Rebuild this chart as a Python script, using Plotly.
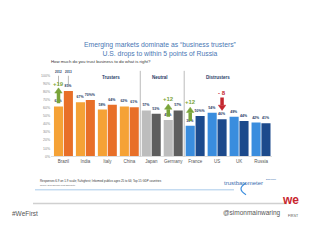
import plotly.graph_objects as go

countries = ["Brazil", "India", "Italy", "China", "Japan", "Germany", "France", "US", "UK", "Russia"]
trust_2012 = [62, 67, 58, 62, 57, 45, 38, 54, 49, 42]
trust_2013 = [81, 70, 64, 61, 53, 57, 50, 46, 44, 41]
groups = ["Trusters"] * 4 + ["Neutral"] * 2 + ["Distrusters"] * 4
light_colors = {"Trusters": "#F5A236", "Neutral": "#BDBDBD", "Distrusters": "#3A8DDE"}
dark_colors = {"Trusters": "#E86F28", "Neutral": "#5E5E5E", "Distrusters": "#1C4A8C"}
ytick_vals = list(range(0, 101, 10))
ytick_text = [f"{v}%" for v in ytick_vals]

W, H = 320, 240
def px(x): return x / W
def py(y): return 1 - y / H

fig = go.Figure()
fig.add_trace(go.Bar(
    x=countries, y=trust_2012, name="2012",
    marker=dict(color=[light_colors[g] for g in groups], line=dict(width=0)),
    texttemplate="<b>%{y}%</b>", textposition="outside",
    textfont=dict(size=3.5, color="#1F3A66", family="Liberation Sans"),
    cliponaxis=False,
))
fig.add_trace(go.Bar(
    x=countries, y=trust_2013, name="2013",
    marker=dict(color=[dark_colors[g] for g in groups], line=dict(width=0)),
    texttemplate="<b>%{y}%</b>", textposition="outside",
    textfont=dict(size=3.5, color="#1F3A66", family="Liberation Sans"),
    cliponaxis=False,
))

fig.update_layout(
    width=W, height=H, margin=dict(l=0, r=0, t=0, b=0),
    paper_bgcolor="white", plot_bgcolor="white",
    showlegend=False, barmode="group", bargap=0.1, bargroupgap=0.08,
    font=dict(family="Liberation Sans", color="#555555"),
    uniformtext=dict(minsize=3, mode="show"),
    xaxis=dict(domain=[px(51), px(272)], tickfont=dict(size=4.5, color="#555555"),
               showline=True, linecolor="#DDDDDD", linewidth=1, ticks="", showgrid=False),
    yaxis=dict(domain=[py(157), py(75)], range=[0, 100], tickvals=ytick_vals, ticktext=ytick_text,
               tickfont=dict(size=3.5, color="#888888"), showgrid=False, zeroline=False, ticks=""),
)

# separators
for xs in [3.5, 5.5]:
    fig.add_shape(type="line", xref="x", yref="paper", x0=xs, x1=xs, y0=py(157), y1=py(70),
                  line=dict(color="#BBBBBB", width=1))

# group labels
for txt, x in [("Trusters", 100), ("Neutral", 160), ("Distrusters", 232)]:
    fig.add_annotation(text=f"<b>{txt}</b>", x=px(x), y=py(72), xref="paper", yref="paper",
                       showarrow=False, font=dict(size=4.5, color="#1F3A66"))

# year labels with leader lines over Brazil
for xo, yr, ybot in [(-0.225, "2012", 88), (0.225, "2013", 86)]:
    fig.add_annotation(text=f"<b>{yr}</b>", x=xo, y=py(67), xref="x", yref="paper",
                       showarrow=False, font=dict(size=3, color="#1F3A66"))
    fig.add_shape(type="line", xref="x", yref="y", x0=xo, x1=xo, y0=ybot, y1=105,
                  line=dict(color="#999999", width=0.7))

# change arrows (shaft + head)
green, red = "#7AA43A", "#C4262E"
arrows = [
    (0 - 0.225, 66, 85, "+19", 90, green),
    (5 - 0.225, 49, 65, "+12", 71, green),
    (6 - 0.225, 44, 61, "+12", 67, green),
    (7 + 0.225, 73, 57, "- 8", 78, red),
]
hw, hh = 0.17, 6.5
for xa, ytail, ytip, lab, ylab, col in arrows:
    d = 1 if ytip > ytail else -1
    base = ytip - d * hh
    fig.add_shape(type="line", xref="x", yref="y", x0=xa, x1=xa, y0=ytail, y1=base,
                  line=dict(color=col, width=3.5))
    fig.add_shape(type="path", xref="x", yref="y",
                  path=f"M {xa - hw} {base} L {xa + hw} {base} L {xa} {ytip} Z",
                  fillcolor=col, line=dict(color=col, width=0.5))
    fig.add_annotation(text=f"<b>{lab}</b>", x=xa, y=ylab, xref="x", yref="y", showarrow=False,
                       font=dict(size=6, color=col))

# title and subtitle
fig.add_annotation(text="Emerging markets dominate as “business trusters”<br>U.S. drops to within 5 points of Russia",
                   x=0.5, y=py(37.5), xref="paper", yref="paper", showarrow=False,
                   font=dict(size=6.8, color="#4A77B4"), align="center")
fig.add_annotation(text="How much do you trust business to do what is right?", x=px(49), y=py(55.5),
                   xref="paper", yref="paper", xanchor="left", showarrow=False,
                   font=dict(size=4.3, color="#333333"))

# footnote
fig.add_annotation(text="Responses 6-9 on 1-9 scale; 9=highest; Informed publics ages 25 to 64; Top 15 GDP countries",
                   x=px(38), y=py(186.5), xref="paper", yref="paper", xanchor="left", showarrow=False,
                   font=dict(size=2.9, color="#333333"))
fig.add_annotation(text="Source: 2013 Edelman Trust Barometer", x=px(38), y=py(189.5), xref="paper", yref="paper",
                   xanchor="left", showarrow=False, font=dict(size=2, color="#666666"))
fig.add_shape(type="line", xref="paper", yref="paper", x0=px(35), x1=px(234), y0=py(191), y1=py(191),
              line=dict(color="#6FA8DC", width=0.6))
fig.add_shape(type="path", xref="paper", yref="paper",
              path=f"M {px(246)} {py(184)} Q {px(236)} {py(190)} {px(246)} {py(196)}",
              line=dict(color="#3A8DDE", width=1.2))
fig.add_annotation(text="trustbarometer", x=px(265), y=py(189.5), xref="paper", yref="paper",
                   showarrow=False, font=dict(size=6, color="#3A6FB0"))
fig.add_annotation(text="Edelman", x=px(278), y=py(184.5), xref="paper", yref="paper",
                   showarrow=False, font=dict(size=2.5, color="#3A6FB0"))

# divider
fig.add_shape(type="line", xref="paper", yref="paper", x0=px(33), x1=px(287), y0=py(205), y1=py(205),
              line=dict(color="#D0D0D0", width=1.5))

# footer
fig.add_annotation(text="#WeFirst", x=px(10), y=py(221), xref="paper", yref="paper", xanchor="left",
                   showarrow=False, font=dict(size=6.5, color="#555555"))
fig.add_annotation(text="@simonmainwaring", x=px(283), y=py(221), xref="paper", yref="paper", xanchor="right",
                   showarrow=False, font=dict(size=6.5, color="#555555"))
fig.add_annotation(text="<b>we</b>", x=px(301), y=py(211), xref="paper", yref="paper",
                   showarrow=False, font=dict(size=12, color="#C8262E"))
fig.add_annotation(text="FIRST", x=px(301), y=py(222), xref="paper", yref="paper",
                   showarrow=False, font=dict(size=3.5, color="#555555"))

fig.write_html("out.html")
